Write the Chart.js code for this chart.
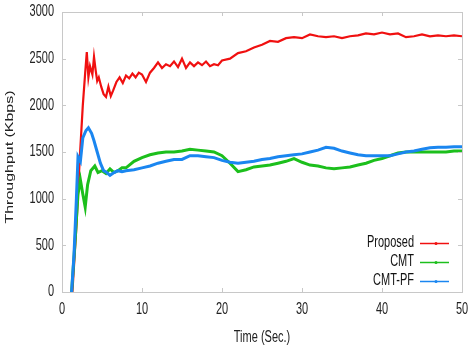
<!DOCTYPE html>
<html>
<head>
<meta charset="utf-8">
<script src="https://cdn.jsdelivr.net/npm/chart.js@4.4.1/dist/chart.umd.min.js"></script>
<style>
  html, body { margin: 0; padding: 0; background: #fff; }
  #wrap { width: 474px; height: 352px; }
</style>
</head>
<body>
<div id="wrap"><canvas id="throughputChart"></canvas></div>
<script>
// time axis (seconds) and throughput (Kbps)
const timeProposed = [1.3, 1.8, 2.2, 2.6, 2.9, 3.1, 3.3, 3.5, 3.8, 4.0, 4.2, 4.4, 4.6, 4.9, 5.2, 5.5, 5.8, 6.1, 6.4, 6.8,
    7.2, 7.6, 8.0, 8.4, 8.8, 9.2, 9.6, 10.0, 10.5, 11, 11.5, 12, 12.5, 13, 13.5, 14, 14.5, 15, 15.5, 16,
    16.5, 17, 17.5, 18, 18.5, 19, 19.5, 20, 21, 22, 23, 24, 25, 26, 27, 28, 29, 30, 31, 32,
    33, 34, 35, 36, 37, 38, 39, 40, 41, 42, 43, 44, 45, 46, 47, 48, 49, 50];
const proposed = [0, 700, 1400, 2000, 2350, 2570, 2300, 2420, 2330, 2520, 2380, 2260, 2300, 2200, 2120, 2090, 2200, 2100, 2160, 2250,
    2300, 2240, 2320, 2290, 2340, 2300, 2350, 2330, 2250, 2350, 2400, 2460, 2400, 2440, 2420, 2470, 2410, 2500, 2400, 2460,
    2420, 2460, 2430, 2470, 2420, 2440, 2430, 2480, 2500, 2560, 2580, 2620, 2650, 2690, 2680, 2720, 2730, 2720, 2760, 2740,
    2730, 2740, 2720, 2740, 2750, 2770, 2760, 2780, 2760, 2770, 2730, 2740, 2760, 2740, 2750, 2740, 2750, 2740];

const timeCmt = [1.2, 1.6, 2.0, 2.3, 2.6, 2.9, 3.2, 3.6, 4.1, 4.5, 5.0, 5.5, 6.0, 6.5, 7.0, 7.5, 8.0, 9, 10, 11,
    12, 13, 14, 15, 16, 17, 18, 19, 20, 21, 22, 23, 24, 25, 26, 27, 28, 29, 30, 31,
    32, 33, 34, 35, 36, 37, 38, 39, 40, 41, 42, 43, 44, 45, 46, 47, 48, 49, 50];
const cmt = [0, 500, 1050, 1200, 1050, 910, 1150, 1300, 1350, 1280, 1300, 1270, 1320, 1280, 1300, 1330, 1330, 1400, 1440, 1470,
    1490, 1500, 1500, 1510, 1530, 1520, 1510, 1500, 1460, 1380, 1290, 1310, 1340, 1350, 1360, 1380, 1400, 1430, 1390, 1360,
    1350, 1330, 1320, 1330, 1340, 1360, 1380, 1410, 1430, 1460, 1490, 1500, 1500, 1500, 1500, 1500, 1500, 1510, 1510];

const timeCmtPf = [1.2, 1.5, 1.8, 2.0, 2.3, 2.6, 3.0, 3.3, 3.7, 4.0, 4.4, 4.8, 5.2, 5.6, 6.0, 6.5, 7.0, 7.5, 8, 9,
    10, 11, 12, 13, 14, 15, 16, 17, 18, 19, 20, 21, 22, 23, 24, 25, 26, 27, 28, 29,
    30, 31, 32, 33, 34, 35, 36, 37, 38, 39, 40, 41, 42, 43, 44, 45, 46, 47, 48, 49, 50];
const cmtPf = [0, 400, 1000, 1450, 1400, 1650, 1730, 1760, 1700, 1620, 1500, 1380, 1300, 1280, 1250, 1280, 1300, 1290, 1300, 1310,
    1330, 1350, 1380, 1400, 1420, 1420, 1460, 1460, 1450, 1440, 1410, 1390, 1380, 1390, 1400, 1420, 1430, 1450, 1460, 1470,
    1480, 1500, 1520, 1550, 1540, 1510, 1490, 1470, 1460, 1460, 1460, 1460, 1480, 1500, 1510, 1530, 1545, 1550, 1550, 1555, 1555];

const xTicks = [0, 10, 20, 30, 40, 50];
const yTicks = [0, 500, 1000, 1500, 2000, 2500, 3000];
const xTitle = 'Time (Sec.)';
const yTitle = 'Throughput (Kbps)';

const toPoints = (xs, ys) => xs.map((x, i) => ({ x: x, y: ys[i] }));

// the original picture is stretched vertically, so text is drawn taller than wide
const FONT = '11px "Liberation Sans", Arial, sans-serif';
const STRETCH = 1.45;

function stretchedText(ctx, text, x, y, align, rotate) {
    ctx.save();
    ctx.translate(x, y);
    if (rotate) {
        ctx.rotate(-Math.PI / 2);
        ctx.scale(STRETCH, 1);
    } else {
        ctx.scale(1, STRETCH);
    }
    ctx.textAlign = align;
    ctx.textBaseline = 'middle';
    ctx.fillText(text, 0, 0);
    ctx.restore();
}

// box, inward tick marks, axis text and the legend in the lower right corner
const framePlugin = {
    id: 'frame',
    afterDatasetsDraw(chart) {
        const ctx = chart.ctx;
        const a = chart.chartArea;
        const xs = chart.scales.x, ys = chart.scales.y;
        ctx.save();
        ctx.strokeStyle = '#c8c8c8';
        ctx.lineWidth = 1;
        ctx.strokeRect(a.left + 0.5, a.top + 0.5, a.right - a.left, a.bottom - a.top);
        ctx.beginPath();
        xTicks.forEach(v => {
            const px = Math.round(xs.getPixelForValue(v)) + 0.5;
            ctx.moveTo(px, a.bottom); ctx.lineTo(px, a.bottom - 4);
            ctx.moveTo(px, a.top); ctx.lineTo(px, a.top + 4);
        });
        yTicks.forEach(v => {
            const py = Math.round(ys.getPixelForValue(v)) + 0.5;
            ctx.moveTo(a.left, py); ctx.lineTo(a.left + 4, py);
            ctx.moveTo(a.right, py); ctx.lineTo(a.right - 4, py);
        });
        ctx.stroke();

        ctx.font = FONT;
        ctx.fillStyle = '#222';
        xTicks.forEach(v => stretchedText(ctx, String(v), xs.getPixelForValue(v), a.bottom + 18, 'center'));
        yTicks.forEach(v => stretchedText(ctx, String(v), a.left - 8, ys.getPixelForValue(v), 'right'));
        stretchedText(ctx, xTitle, (a.left + a.right) / 2, a.bottom + 46, 'center');
        stretchedText(ctx, yTitle, 10, (a.top + a.bottom) / 2 + 5, 'center', true);

        // legend
        chart.data.datasets.forEach((ds, i) => {
            const y = a.bottom - 49 + i * 19;
            const xr = a.right - 48;
            ctx.fillStyle = '#111';
            stretchedText(ctx, ds.label, xr, y, 'right');
            ctx.strokeStyle = ds.borderColor;
            ctx.lineWidth = 1.5;
            ctx.beginPath();
            ctx.moveTo(xr + 6, y + 0.5); ctx.lineTo(xr + 35, y + 0.5);
            ctx.stroke();
            ctx.fillStyle = ds.borderColor;
            ctx.beginPath();
            ctx.arc(xr + 22, y + 0.5, 1.5, 0, Math.PI * 2);
            ctx.fill();
        });
        ctx.restore();
    }
};

document.addEventListener('DOMContentLoaded', function () {
    const ctx = document.getElementById('throughputChart').getContext('2d');
    new Chart(ctx, {
        type: 'line',
        data: {
            datasets: [{
                label: 'Proposed',
                data: toPoints(timeProposed, proposed),
                borderColor: '#f01010',
                borderWidth: 2.2,
                order: 2
            },
            {
                label: 'CMT',
                data: toPoints(timeCmt, cmt),
                borderColor: '#1cbf1c',
                borderWidth: 3,
                order: 1
            },
            {
                label: 'CMT-PF',
                data: toPoints(timeCmtPf, cmtPf),
                borderColor: '#1a86f0',
                borderWidth: 3,
                order: 0
            }]
        },
        options: {
            responsive: true,
            maintainAspectRatio: false,
            animation: false,
            layout: { padding: { top: 12, right: 12, left: 0, bottom: 0 } },
            elements: { point: { radius: 0 }, line: { tension: 0 } },
            plugins: {
                legend: { display: false },
                tooltip: { enabled: false }
            },
            scales: {
                x: {
                    type: 'linear',
                    min: 0,
                    max: 50,
                    afterBuildTicks: s => { s.ticks = xTicks.map(v => ({ value: v })); },
                    afterFit: s => { s.height = 60; },
                    grid: { display: false },
                    border: { display: false },
                    ticks: { display: false }
                },
                y: {
                    min: 0,
                    max: 3000,
                    afterBuildTicks: s => { s.ticks = yTicks.map(v => ({ value: v })); },
                    afterFit: s => { s.width = 62; },
                    grid: { display: false },
                    border: { display: false },
                    ticks: { display: false }
                }
            }
        },
        plugins: [framePlugin]
    });
});
</script>
</body>
</html>
